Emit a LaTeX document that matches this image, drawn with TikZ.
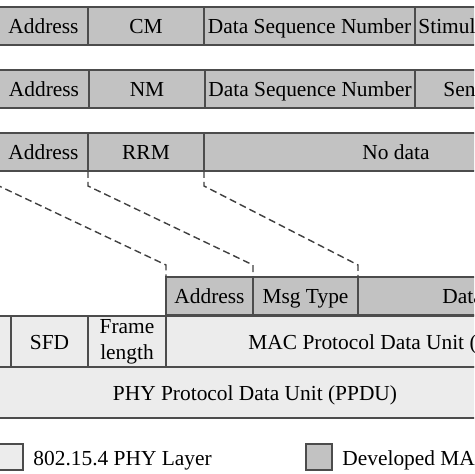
\documentclass[tikz,border=0pt]{standalone}
\usepackage{fontspec}
\setmainfont{Liberation Serif}
\usetikzlibrary{positioning}
\definecolor{macgray}{gray}{0.76}
\definecolor{phygray}{gray}{0.925}
\definecolor{edgegray}{gray}{0.3}
\begin{document}
\begin{tikzpicture}[x=0.5pt,y=-0.5pt,
  cell/.style={draw=edgegray,line width=0.75pt,outer sep=0pt,inner sep=1pt,minimum height=19pt,font=\fontsize{10.7}{13}\selectfont},
  field/.style={cell,text height=9pt,text depth=1pt},
  mac/.style={fill=macgray},
  phy/.style={fill=phygray},
  link/.style={draw=black!75,line width=0.7pt,dash pattern=on 3.5pt off 2pt},
  lbl/.style={inner sep=0pt,text height=9pt,text depth=1pt,font=\fontsize{10.7}{13}\selectfont}]
\useasboundingbox (0,0) rectangle (474,474);
\clip (0,0) rectangle (474,474);
% CM packet
\node[field,mac,minimum width=44.5pt,anchor=north west] (adrA) at (-1,7) {Address};
\node[field,mac,minimum width=58pt,right=0pt of adrA] (cm) {CM};
\node[field,mac,minimum width=105.5pt,right=0pt of cm] (seqA) {Data Sequence Number};
\node[field,mac,minimum width=86.5pt,right=0pt of seqA] (stim) {};
\node[lbl,anchor=west] at ([xshift=1.5pt]stim.west) {Stimul};
% NM packet
\node[field,mac,minimum width=45pt,anchor=north west] (adrB) at (-1,70) {Address};
\node[field,mac,minimum width=58pt,right=0pt of adrB] (nm) {NM};
\node[field,mac,minimum width=105pt,right=0pt of nm] (seqB) {Data Sequence Number};
\node[field,mac,minimum width=86.5pt,right=0pt of seqB] (sens) {};
\node[lbl,anchor=west] at ([xshift=14pt]sens.west) {Sens};
% RRM packet
\node[field,mac,minimum width=44.5pt,anchor=north west] (adrC) at (-1,133) {Address};
\node[field,mac,minimum width=58pt,right=0pt of adrC] (rrm) {RRM};
\node[field,mac,minimum width=192pt,right=0pt of rrm] (nodata) {No data};
% MAC frame
\node[field,mac,minimum width=43.5pt,anchor=north west] (adrD) at (166,277) {Address};
\node[field,mac,minimum width=52.5pt,right=0pt of adrD] (msg) {Msg Type};
\node[field,mac,minimum width=115pt,right=0pt of msg] (dataD) {};
\node[lbl,anchor=west] at ([xshift=42pt]dataD.west) {Data};
% PHY frame
\node[cell,phy,minimum width=44.5pt,minimum height=25.5pt,anchor=north west] (pre) at (-78,316) {};
\node[field,phy,minimum width=38.5pt,minimum height=25.5pt,right=0pt of pre] (sfd) {SFD};
\node[cell,phy,minimum width=39pt,minimum height=25.5pt,align=center,right=0pt of sfd] (flen) {Frame\\length};
\node[cell,phy,minimum width=211pt,minimum height=25.5pt,right=0pt of flen] (mpdu) {};
\node[lbl,anchor=west] at ([xshift=41pt]mpdu.west) {MAC Protocol Data Unit (};
\node[field,phy,minimum width=333pt,minimum height=25.5pt,anchor=north west] (ppdu) at (-78,367) {PHY Protocol Data Unit (PPDU)};
% mapping
\draw[link] (adrC.south west) -- ++(0,15) -- ([yshift=6pt]adrD.north west) -- (adrD.north west);
\draw[link] (rrm.south west) -- ++(0,15) -- ([yshift=6pt]msg.north west) -- (msg.north west);
\draw[link] (rrm.south east) -- ++(0,15) -- ([yshift=6pt]dataD.north west) -- (dataD.north west);
% legend
\node[cell,phy,minimum width=13pt,minimum height=13pt,anchor=north west] (keyphy) at (-3,444) {};
\node[lbl,right=5pt of keyphy] {802.15.4 PHY Layer};
\node[cell,mac,minimum width=13pt,minimum height=13pt,anchor=north west] (keymac) at (306,444) {};
\node[lbl,right=5pt of keymac] {Developed MA};
\end{tikzpicture}
\end{document}
